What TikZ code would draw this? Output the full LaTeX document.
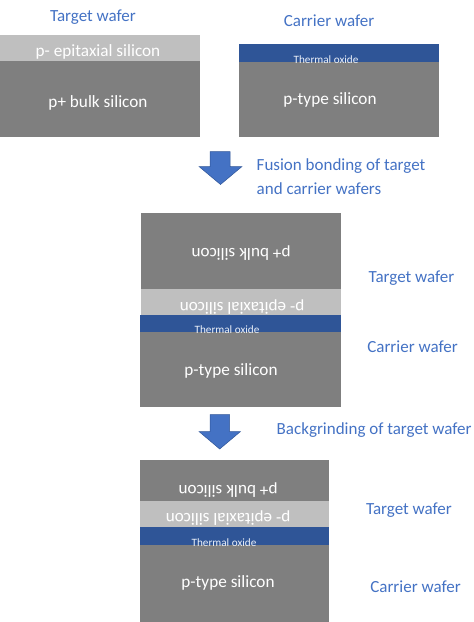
\documentclass[tikz,border=0pt]{standalone}
\usepackage{fontspec}
\setmainfont{Carlito}
\definecolor{dgray}{HTML}{7F7F7F}
\definecolor{lgray}{HTML}{BFBFBF}
\definecolor{oxide}{HTML}{2F5597}
\definecolor{lblue}{HTML}{4472C4}
\tikzset{
  lab/.style={text=lblue, font=\fontsize{17}{19}\selectfont, inner sep=0pt},
  lyr/.style={text=white, font=\fontsize{17.2}{19}\selectfont, inner sep=0pt},
  oxl/.style={text=white!90!lblue, font=\fontsize{11.2}{13}\selectfont, inner sep=0pt},
  flow/.style={fill=lblue, draw=oxide, line width=0.5pt},
}
\begin{document}
\begin{tikzpicture}[x=1pt,y=-1pt]
\useasboundingbox (0,0) rectangle (474,622);
% ---- stage 1: target wafer
\node[lab] (t1) at (93,17) {Target wafer};
\fill[lgray] (0,35) rectangle (200,61);
\fill[dgray] (0,61) rectangle (200,137);
\node[lyr] (t1epi) at (98,51.5) {p- epitaxial silicon};
\node[lyr] (t1bulk) at (98,103) {p+ bulk silicon};
% ---- stage 1: carrier wafer
\node[lab] (c1) at (329,21) {Carrier wafer};
\fill[oxide] (239,44) rectangle (439,62);
\fill[dgray] (239,62) rectangle (439,137);
\node[oxl] (c1ox) at (326,60) {Thermal oxide};
\node[lyr] (c1p) at (330,100) {p-type silicon};
% ---- arrow 1
\filldraw[flow] (210,151.5) -- (230,151.5) -- (230,166.5) -- (242,166.5) -- (220.5,184.5) -- (199,166.5) -- (210,166.5) -- cycle;
\node[lab, anchor=west] (s1a) at (256.5,166) {Fusion bonding of target};
\node[lab, anchor=west] (s1b) at (256.5,188.5) {and carrier wafers};
% ---- stage 2
\fill[dgray] (140.5,212.5) rectangle (341,289);
\fill[lgray] (140.5,289) rectangle (341,315);
\fill[dgray] (139.5,331.5) rectangle (340.5,407);
\fill[oxide] (139.5,315) rectangle (340.5,331.5);
\node[lyr, rotate=180] (t2bulk) at (241,253) {p+ bulk silicon};
\node[lyr, rotate=180] (t2epi) at (242,307) {p- epitaxial silicon};
\node[oxl] (c2ox) at (227,329.5) {Thermal oxide};
\node[lyr] (c2p) at (231,371) {p-type silicon};
\node[lab] (t2) at (411.5,278) {Target wafer};
\node[lab] (c2) at (412.5,347) {Carrier wafer};
% ---- arrow 2
\filldraw[flow] (210,414.5) -- (229.5,414.5) -- (229.5,431.5) -- (240.5,431.5) -- (219.7,449) -- (199,431.5) -- (210,431.5) -- cycle;
\node[lab, anchor=west] (s2) at (276.5,430) {Backgrinding of target wafer};
% ---- stage 3
\fill[dgray] (139.5,460) rectangle (328.5,501);
\fill[lgray] (139.5,501) rectangle (328.5,527);
\fill[oxide] (139.5,527) rectangle (328.5,545);
\fill[dgray] (139.5,545) rectangle (328.5,622);
\node[lyr, rotate=180] (t3bulk) at (228,490) {p+ bulk silicon};
\node[lyr, rotate=180] (t3epi) at (228,518) {p- epitaxial silicon};
\node[oxl] (c3ox) at (224,542.5) {Thermal oxide};
\node[lyr] (c3p) at (228,583) {p-type silicon};
\node[lab] (t3) at (409,510.5) {Target wafer};
\node[lab] (c3) at (415.5,587) {Carrier wafer};
\end{tikzpicture}
\end{document}
